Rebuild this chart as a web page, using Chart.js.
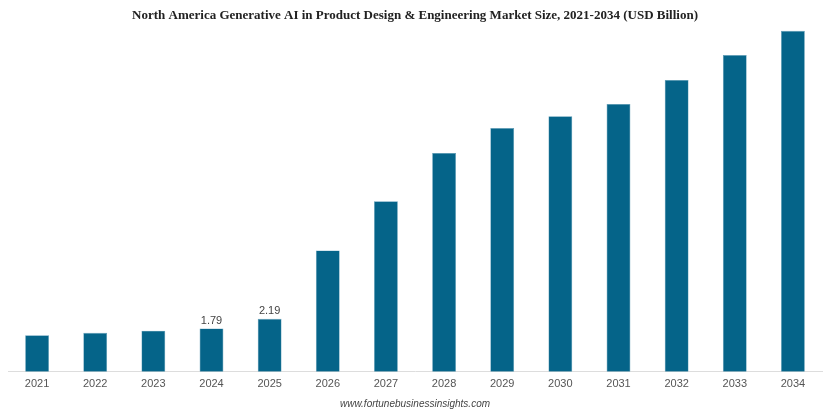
<!DOCTYPE html>
<html><head><meta charset="utf-8">
<script src="https://cdn.jsdelivr.net/npm/chart.js@4.4.0/dist/chart.umd.min.js"></script>
<style>html,body{margin:0;padding:0;background:#fff}#wrap{width:825px;height:412px}</style>
</head><body><div id="wrap"><canvas id="c"></canvas></div>
<script>
const categories = ["2021","2022","2023","2024","2025","2026","2027","2028","2029","2030","2031","2032","2033","2034"];
const values = [1.51,1.61,1.70,1.79,2.19,5.02,7.05,9.05,10.08,10.57,11.08,12.07,13.10,14.10];
const shownLabels = [null,null,null,"1.79","2.19",null,null,null,null,null,null,null,null,null];

const labelPlugin = {
  id: 'valLabels',
  afterDatasetsDraw(chart) {
    const ctx = chart.ctx;
    const meta = chart.getDatasetMeta(0);
    ctx.save();
    ctx.font = '11px "Liberation Sans", Arial, sans-serif';
    ctx.fillStyle = '#444';
    ctx.textAlign = 'center';
    ctx.textBaseline = 'bottom';
    meta.data.forEach((bar, i) => {
      if (shownLabels[i]) ctx.fillText(shownLabels[i], bar.x, bar.y - 2);
    });
    ctx.restore();
  }
};

new Chart(document.getElementById('c'), {
  type: 'bar',
  data: { labels: categories, datasets: [{ data: values, backgroundColor: '#056489', borderColor: '#5d9bb6', borderWidth: 0.6, barPercentage: 0.41, categoryPercentage: 1 }] },
  options: {
    responsive: true, maintainAspectRatio: false, animation: false,
    layout: { padding: { left: 8, right: 3, top: 0, bottom: 0 } },
    plugins: {
      legend: { display: false }, tooltip: { enabled: false },
      title: { display: true, text: 'North America Generative AI in Product Design & Engineering Market Size, 2021-2034 (USD Billion)',
        font: { family: '"Liberation Serif", "Times New Roman", serif', size: 13, weight: 'bold' }, color: '#222', padding: { top: 8, bottom: 0 } },
      subtitle: { display: true, position: 'bottom', text: 'www.fortunebusinessinsights.com',
        font: { family: '"Liberation Sans", Arial, sans-serif', size: 10, style: 'italic' }, color: '#444', padding: { top: 1, bottom: 2 } }
    },
    scales: {
      x: { grid: { display: false, drawTicks: false }, border: { display: true, color: '#dddddd', width: 1 },
        ticks: { padding: 6, color: '#555', font: { family: '"Liberation Sans", Arial, sans-serif', size: 11 } } },
      y: { display: false, min: 0, max: 14.4 }
    }
  },
  plugins: [labelPlugin]
});
</script></body></html>
